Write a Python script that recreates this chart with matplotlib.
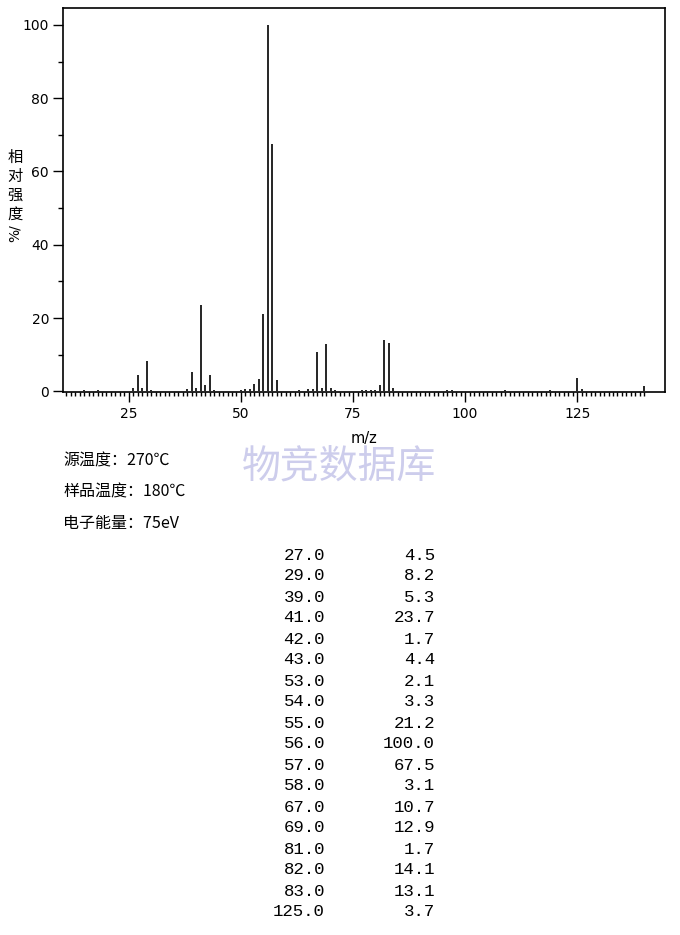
import matplotlib.pyplot as plt
from matplotlib.ticker import MultipleLocator, FixedLocator

# Peak list (m/z, relative intensity) as printed in the table
mz = [27, 29, 39, 41, 42, 43, 53, 54, 55, 56, 57, 58, 67, 69, 81, 82, 83, 125]
intensity = [4.5, 8.2, 5.3, 23.7, 1.7, 4.4, 2.1, 3.3, 21.2, 100.0, 67.5, 3.1,
             10.7, 12.9, 1.7, 14.1, 13.1, 3.7]

# Small peaks visible in the spectrum but not in the table (estimated)
minor_mz = [15, 18, 26, 28, 30, 38, 40, 44, 50, 51, 52, 63, 65, 66, 68, 70,
            71, 77, 78, 79, 80, 84, 96, 97, 109, 119, 126, 140]
minor_int = [0.4, 0.4, 1.0, 0.9, 0.4, 0.8, 0.9, 0.4, 0.4, 0.6, 0.6, 0.3, 0.7,
             0.6, 1.0, 1.0, 0.5, 0.4, 0.4, 0.5, 0.5, 1.0, 0.3, 0.3, 0.3, 0.3,
             0.8, 1.4]

info_lines = ["源温度：270℃", "样品温度：180℃", "电子能量：75eV"]

fig = plt.figure(figsize=(6.8, 9.35), dpi=100)
ax = fig.add_axes([63 / 680, 1 - 392 / 935, 602 / 680, 384 / 935])

ax.vlines(mz, 0, intensity, color="black", linewidth=1.2)
ax.vlines(minor_mz, 0, minor_int, color="black", linewidth=1.2)

ax.set_xlim(10.3, 144.6)
ax.set_ylim(-0.15, 104.6)

ax.xaxis.set_major_locator(FixedLocator([25, 50, 75, 100, 125]))
ax.xaxis.set_minor_locator(FixedLocator(list(range(11, 141))))
ax.yaxis.set_major_locator(MultipleLocator(20))
ax.yaxis.set_minor_locator(MultipleLocator(10))
ax.tick_params(axis="x", which="major", length=7, width=1, labelsize=10, pad=4)
ax.tick_params(axis="x", which="minor", length=3, width=1)
ax.tick_params(axis="y", which="major", length=7, width=1, labelsize=10, pad=3)
ax.tick_params(axis="y", which="minor", length=3.5, width=1)
for s in ax.spines.values():
    s.set_linewidth(1.2)

ax.set_xlabel("m/z", fontsize=10.5, labelpad=7)

# vertical y label
fig.text(15 / 680, 1 - 186 / 935, "相\n对\n强\n度", family=["Noto Sans CJK SC", "DejaVu Sans"],
         fontsize=11, ha="center", va="center", linespacing=1.15)
fig.text(15 / 680, 1 - 233 / 935, "%/", fontsize=10, rotation=90,
         ha="center", va="center")

# info text
for i, line in enumerate(info_lines):
    fig.text(63 / 680, 1 - (461 + 31 * i) / 935, line,
             family=["Noto Sans CJK SC", "DejaVu Sans"], fontsize=11.5,
             ha="left", va="center")

# watermark
fig.text(339 / 680, 1 - 467 / 935, "物竞数据库", family=["Noto Sans CJK SC"],
         fontsize=28, color="#cdcdec", ha="center", va="center")

# peak table
for i, (m, v) in enumerate(zip(mz, intensity)):
    y = 1 - (555 + 21 * i) / 935
    fig.text(325 / 680, y, f"{m:.1f}", family="Liberation Mono", fontsize=12.5,
             ha="right", va="center")
    fig.text(435 / 680, y, f"{v:.1f}", family="Liberation Mono", fontsize=12.5,
             ha="right", va="center")

fig.savefig("out.png", dpi=100)
